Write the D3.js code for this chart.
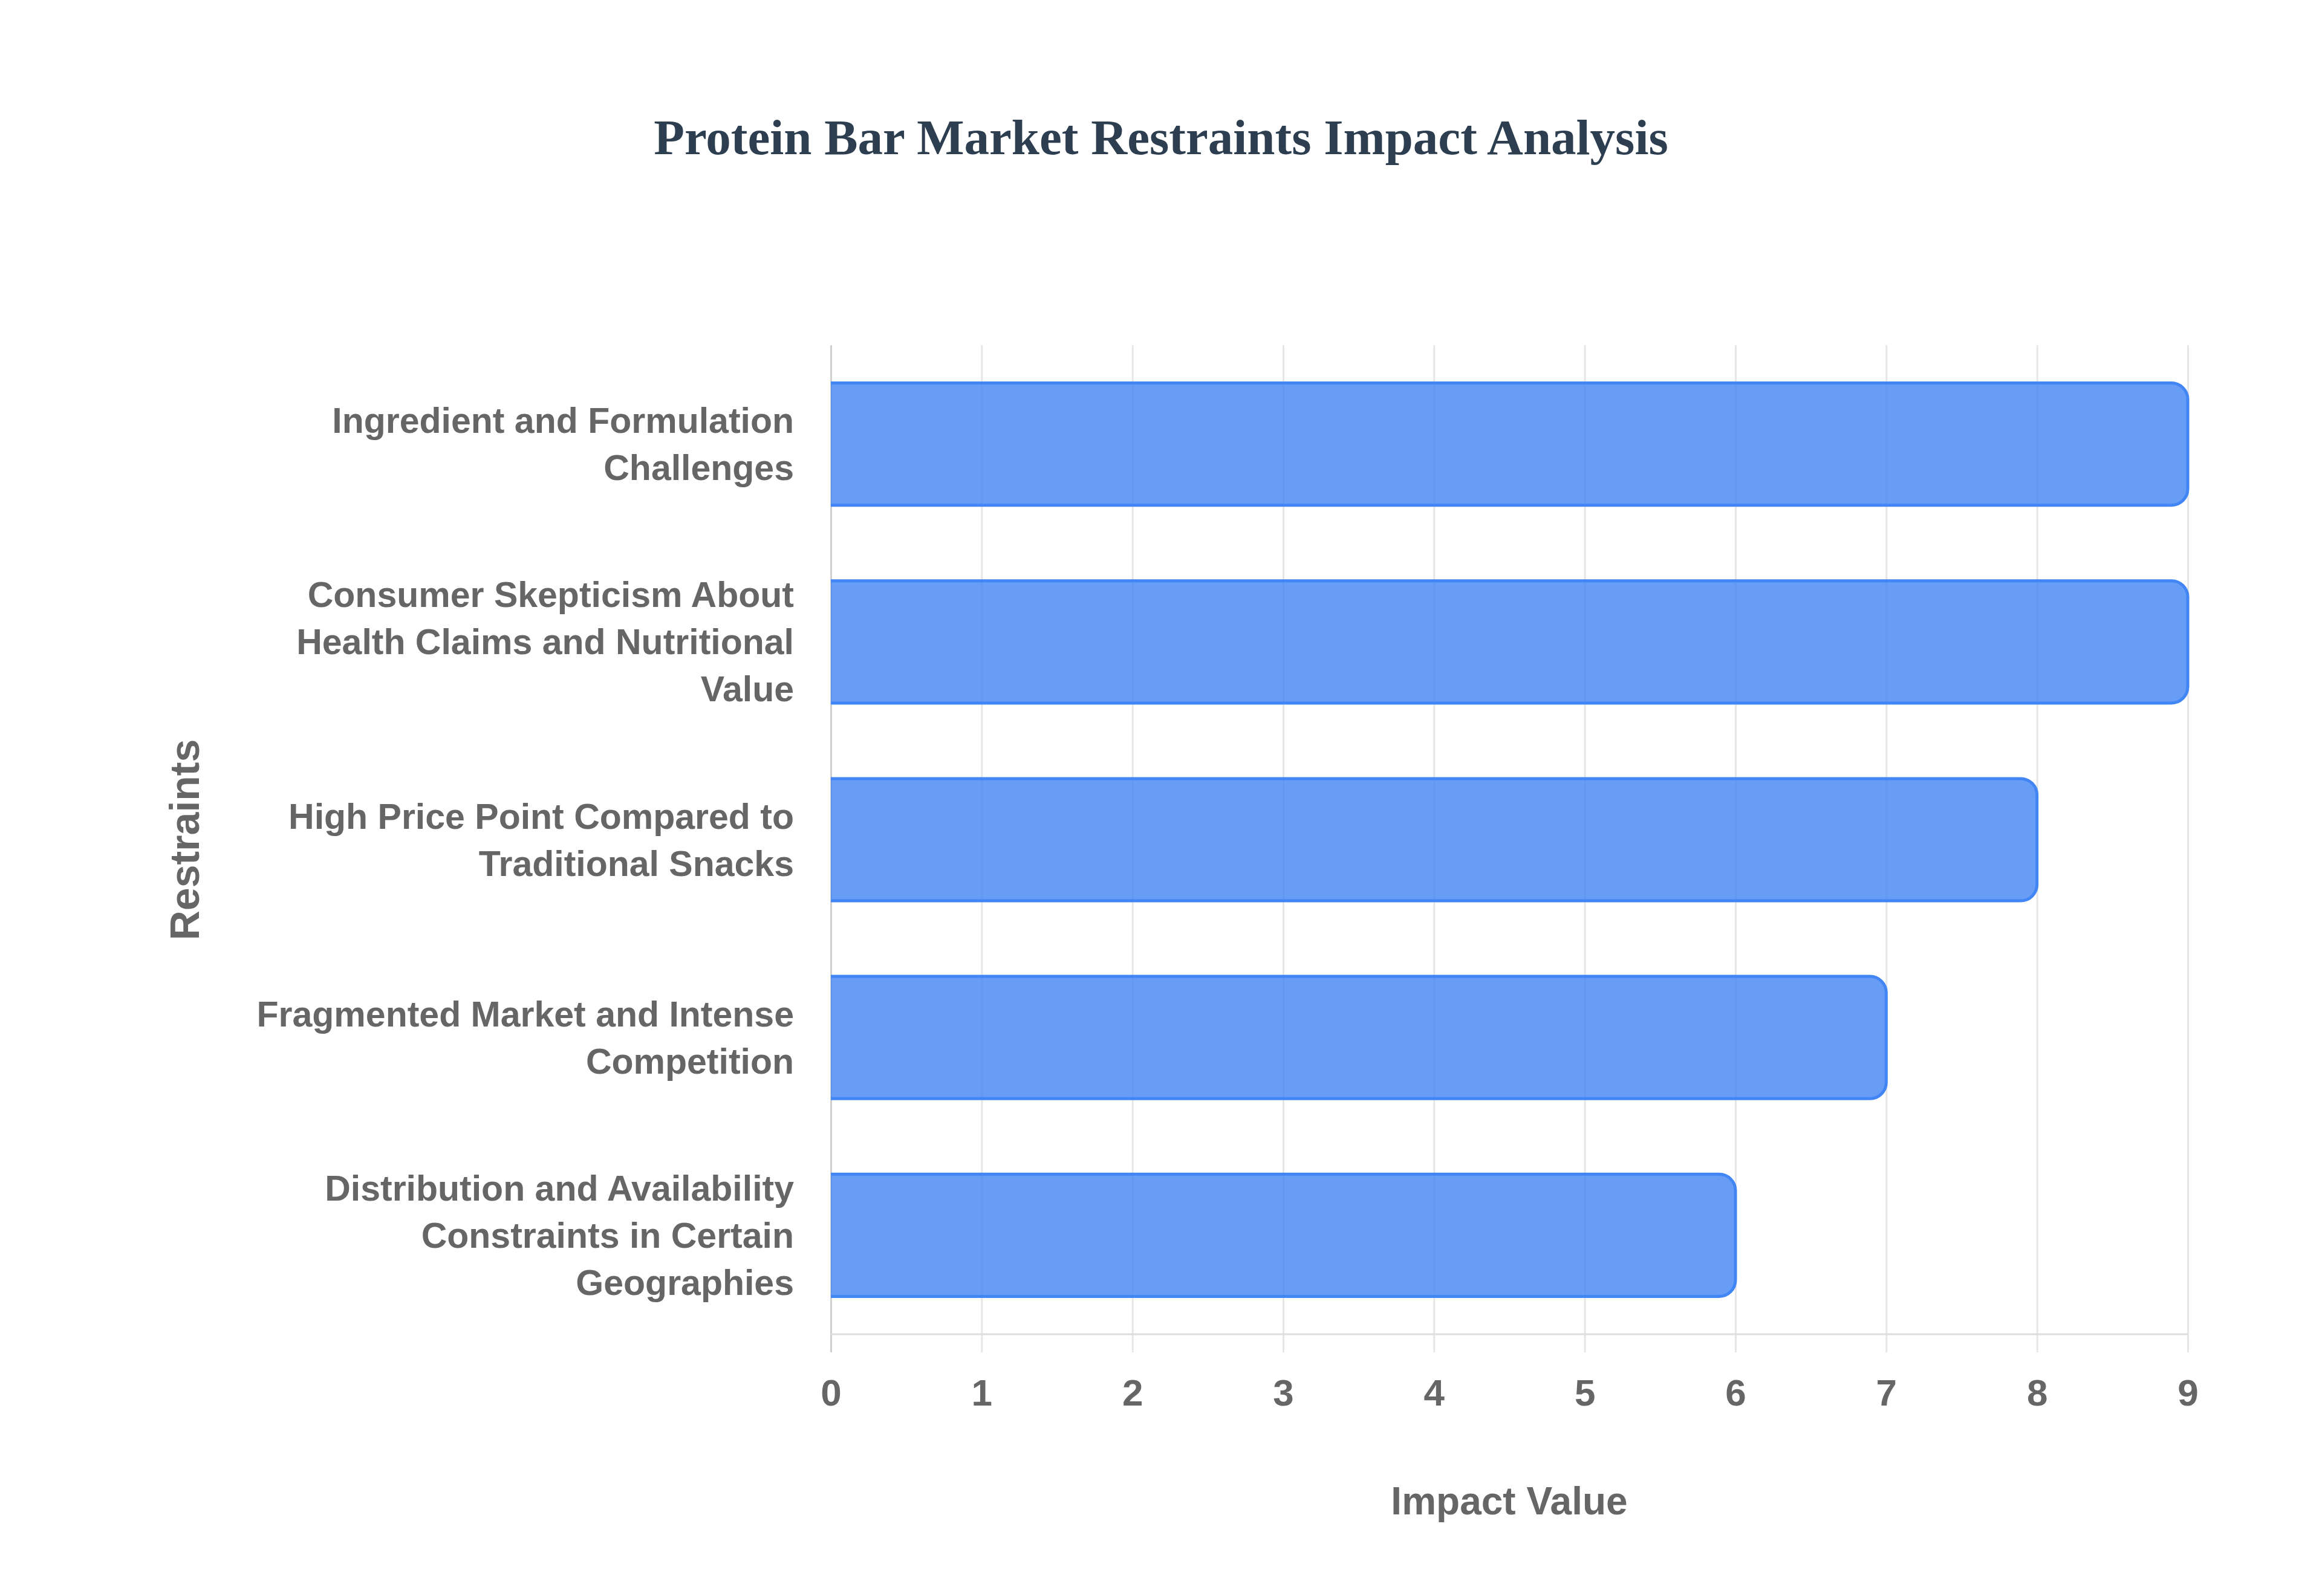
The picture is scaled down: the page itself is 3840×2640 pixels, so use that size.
<!DOCTYPE html>
<meta charset="utf-8">
<style>
    body { margin: 0; background: #fff; }
    .tick text { font-family: "Liberation Sans", Arial, sans-serif; font-weight: bold; fill: #666; }
</style>
<svg width="3840" height="2640"></svg>

<script src="https://d3js.org/d3.v7.min.js"></script>
<script>
    var categories = [
        "Ingredient and Formulation Challenges",
        "Consumer Skepticism About Health Claims and Nutritional Value",
        "High Price Point Compared to Traditional Snacks",
        "Fragmented Market and Intense Competition",
        "Distribution and Availability Constraints in Certain Geographies"
    ];
    var impactValues = [9, 9, 8, 7, 6];
    var xTicks = [0, 1, 2, 3, 4, 5, 6, 7, 8, 9];

    var svg = d3.select("svg"),
        width = +svg.attr("width"),
        height = +svg.attr("height");

    var margin = {top: 571, right: 222, bottom: 433, left: 1374},
        plotW = width - margin.left - margin.right,
        plotH = height - margin.top - margin.bottom;

    var g = svg.append("g").attr("transform", "translate(" + margin.left + "," + margin.top + ")");

    var x = d3.scaleLinear().domain([0, 9]).range([0, plotW]);
    var y = d3.scaleBand().domain(categories).range([0, plotH])
        .paddingInner(0.382).paddingOuter(0.191);

    // vertical grid lines + tick labels
    var xAxis = g.append("g")
        .attr("transform", "translate(0," + (plotH + 30) + ")")
        .call(d3.axisBottom(x).tickValues(xTicks).tickSize(-(plotH + 30)).tickSizeOuter(0).tickPadding(44));
    xAxis.select(".domain").remove();
    xAxis.selectAll(".tick line")
        .attr("stroke", function(d) { return d === 0 ? "#d0d0d0" : "#e6e6e6"; })
        .attr("stroke-width", 3);
    xAxis.selectAll(".tick text").style("font-size", "62px");

    // bottom axis line
    g.append("line")
        .attr("x1", x(0)).attr("x2", x(9))
        .attr("y1", plotH).attr("y2", plotH)
        .attr("stroke", "#dedede").attr("stroke-width", 3);

    // bars, square on the left, rounded on the right
    var r = 27;
    function barPath(v, cat, closed) {
        var x0 = x(0), x1 = x(v), y0 = y(cat), y1 = y(cat) + y.bandwidth();
        var p = d3.path();
        p.moveTo(x0, y0);
        p.lineTo(x1 - r, y0);
        p.arcTo(x1, y0, x1, y0 + r, r);
        p.lineTo(x1, y1 - r);
        p.arcTo(x1, y1, x1 - r, y1, r);
        p.lineTo(x0, y1);
        if (closed) p.closePath();
        return p.toString();
    }
    var bars = g.selectAll(".bar")
        .data(impactValues)
        .enter().append("g")
        .attr("class", "bar");
    bars.append("path")
        .attr("d", function(d, i) { return barPath(d, categories[i], true); })
        .attr("fill", "rgba(66,133,244,0.8)");
    bars.append("path")
        .attr("d", function(d, i) { return barPath(d, categories[i], false); })
        .attr("fill", "none")
        .attr("stroke", "#4285f4")
        .attr("stroke-width", 5);

    // wrapped category labels
    function wrap(text, maxChars) {
        var words = text.split(" "), lines = [], cur = "";
        words.forEach(function(w) {
            var t = cur ? cur + " " + w : w;
            if (t.length > maxChars && cur) { lines.push(cur); cur = w; }
            else cur = t;
        });
        if (cur) lines.push(cur);
        return lines;
    }
    var lineH = 78;
    var labels = g.selectAll(".cat")
        .data(categories)
        .enter().append("text")
        .attr("class", "cat")
        .attr("text-anchor", "end")
        .attr("font-family", "'Liberation Sans', Arial, sans-serif")
        .attr("font-weight", "bold")
        .attr("font-size", 59)
        .attr("fill", "#666");
    labels.each(function(d) {
        var lines = wrap(d, 30),
            cy = y(d) + y.bandwidth() / 2,
            start = cy - (lines.length - 1) * lineH / 2;
        var t = d3.select(this);
        lines.forEach(function(l, k) {
            t.append("tspan")
                .attr("x", -61)
                .attr("y", start + k * lineH)
                .attr("dy", "0.35em")
                .text(l);
        });
    });

    // axis titles
    svg.append("text")
        .attr("x", margin.left + plotW / 2)
        .attr("y", 2505)
        .attr("text-anchor", "middle")
        .attr("font-family", "'Liberation Sans', Arial, sans-serif")
        .attr("font-weight", "bold")
        .attr("font-size", 64)
        .attr("fill", "#666")
        .text("Impact Value");

    svg.append("text")
        .attr("transform", "translate(329," + (margin.top + plotH / 2) + ") rotate(-90)")
        .attr("text-anchor", "middle")
        .attr("font-family", "'Liberation Sans', Arial, sans-serif")
        .attr("font-weight", "bold")
        .attr("font-size", 68)
        .attr("fill", "#666")
        .text("Restraints");

    // title
    svg.append("text")
        .attr("x", width / 2)
        .attr("y", 255)
        .attr("text-anchor", "middle")
        .attr("font-family", "'Liberation Serif', 'Times New Roman', serif")
        .attr("font-weight", "bold")
        .attr("font-size", 83)
        .attr("fill", "#2c3e50")
        .text("Protein Bar Market Restraints Impact Analysis");
</script>
